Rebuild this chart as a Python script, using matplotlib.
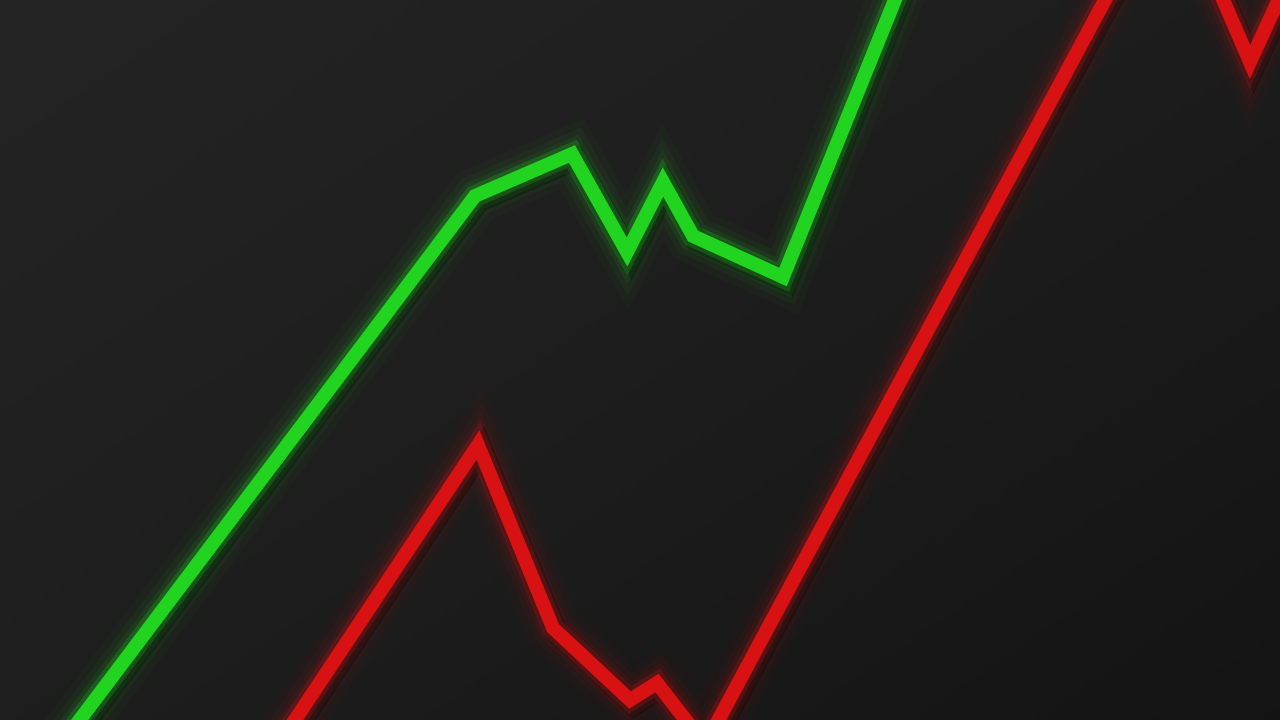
import numpy as np
import matplotlib.pyplot as plt

# 绿色曲线 (x, 高度) —— 两端延伸到画面外
green_x = [57, 475, 572, 627, 663, 693, 783, 905]
green_y = [-30, 524, 566, 468, 538, 484, 443, 745]

# 红色曲线
red_x = [275, 478, 553, 630, 657, 705, 1105, 1125, 1208, 1250, 1290]
red_y = [-30, 275, 92, 20, 37, -25, 720, 758, 755, 658, 745]

green = '#20d420'
red = '#d81212'

fig = plt.figure(figsize=(12.8, 7.2), dpi=100)
ax = fig.add_axes([0, 0, 1, 1])
ax.set_xlim(0, 1280)
ax.set_ylim(0, 720)
ax.axis('off')

# 背景渐变: 左上较亮, 右下较暗
gx, gy = np.meshgrid(np.linspace(0, 1, 256), np.linspace(0, 1, 144))
t = np.clip(0.55 * gx + 0.45 * gy, 0, 1)  # 0 在左上
shade = 0.140 - 0.062 * t ** 1.3
bg = np.dstack([shade, shade, shade])
ax.imshow(bg, extent=[0, 1280, 0, 720], origin='upper', aspect='auto', zorder=0)


def glow_line(x, y, color, z):
    # 阴影
    ax.plot(np.array(x) + 4, np.array(y) - 5, color='black', lw=16, alpha=0.3,
            solid_joinstyle='miter', zorder=z)
    # 光晕
    for w, a in [(40, 0.03), (30, 0.05), (22, 0.08), (16, 0.22)]:
        ax.plot(x, y, color=color, lw=w, alpha=a, solid_joinstyle='miter', zorder=z + 1)
    # 主线
    ax.plot(x, y, color=color, lw=10, solid_joinstyle='miter', zorder=z + 2)


glow_line(green_x, green_y, green, 2)
glow_line(red_x, red_y, red, 6)

fig.savefig('out.png', dpi=100)
